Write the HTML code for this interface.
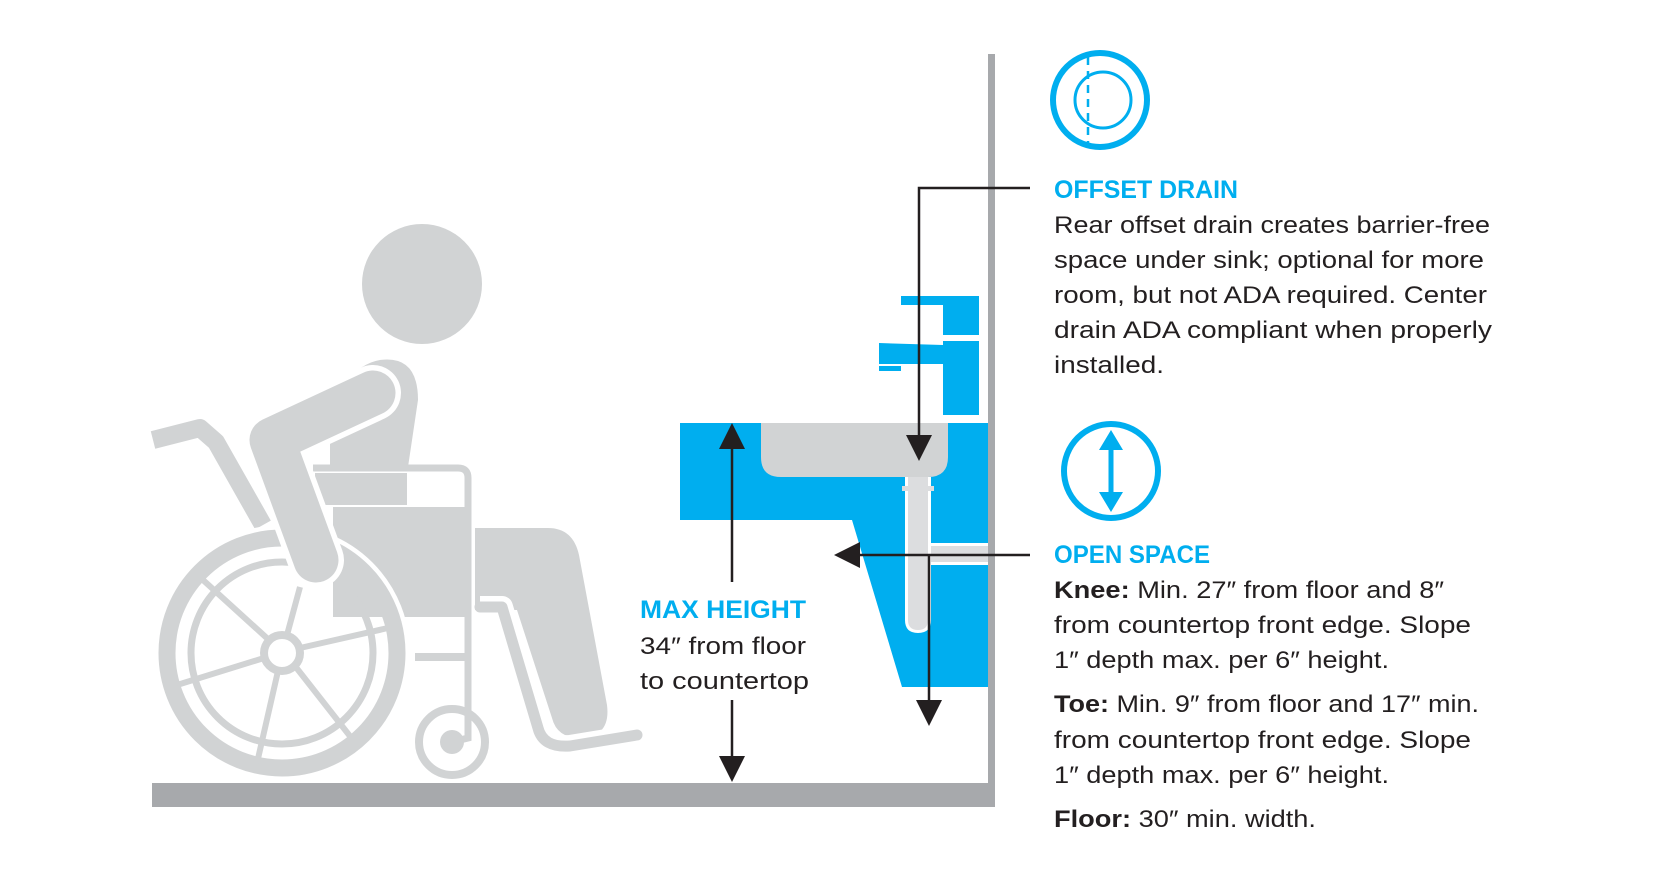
<!DOCTYPE html>
<html><head><meta charset="utf-8"><style>
html,body{margin:0;padding:0;background:#fff;width:1680px;height:877px;overflow:hidden}
svg{display:block}
text{font-family:"Liberation Sans",sans-serif;fill:#231f20}
.b{font-size:24px}
.h{font-size:25px;font-weight:bold;fill:#00aeef}
</style></head><body>
<svg width="1680" height="877" viewBox="0 0 1680 877" xmlns="http://www.w3.org/2000/svg">
<!-- wall & floor -->
<rect x="988" y="54" width="7" height="753" fill="#a7a9ac"/>
<rect x="152" y="783" width="843" height="24" fill="#a7a9ac"/>

<!-- wheelchair figure -->
<g fill="#d1d3d4">
 <circle cx="422" cy="284" r="60"/>
 <!-- torso -->
 <path d="M330,410 Q350,365 380,360 Q418,355 418,400 L408,467 L330,467 Z"/>
 <!-- seat under frame -->
 <rect x="315" y="473" width="92" height="32"/>
 <!-- lap -->
 <rect x="333" y="507" width="132" height="110"/>
 <!-- thigh + shin -->
 <path d="M475,528 H548 Q573,528 579,555 L607,705 Q611,737 580,738 Q557,738 552,718 L517,610 H475 Z"/>
</g>
<!-- chair back handle -->
<polyline points="153,440 200,428 216,442 263,525" fill="none" stroke="#d1d3d4" stroke-width="18" stroke-linejoin="round"/>
<!-- chair frame -->
<path d="M313,468 H458 Q468,468 468,478 V738 L452,742" fill="none" stroke="#d1d3d4" stroke-width="7"/>
<line x1="415" y1="657" x2="468" y2="657" stroke="#d1d3d4" stroke-width="8"/>
<!-- footrest -->
<path d="M480,607 H502 L538,728 Q543,748 570,746 L637,735" fill="none" stroke="#fff" stroke-width="22" stroke-linejoin="round"/>
<path d="M480,607 H502 L538,728 Q543,748 570,746 L637,735" fill="none" stroke="#d1d3d4" stroke-width="11" stroke-linejoin="round" stroke-linecap="round"/>
<!-- big wheel -->
<g fill="none" stroke="#d1d3d4">
 <circle cx="282" cy="653" r="124" stroke-width="8" stroke="#fff"/>
 <circle cx="282" cy="653" r="115" stroke-width="17"/>
 <circle cx="282" cy="653" r="91" stroke-width="7"/>
 <circle cx="282" cy="653" r="18" stroke-width="8"/>
 <g stroke-width="6">
  <line x1="287" y1="635" x2="300" y2="587"/>
  <line x1="269" y1="640" x2="203" y2="580"/>
  <line x1="300" y1="648" x2="388" y2="628"/>
  <line x1="264" y1="658" x2="177" y2="685"/>
  <line x1="278" y1="671" x2="257" y2="763"/>
  <line x1="295" y1="666" x2="353" y2="740"/>
 </g>
</g>
<!-- caster -->
<circle cx="452" cy="742" r="33" fill="none" stroke="#d1d3d4" stroke-width="8"/>
<circle cx="452" cy="742" r="12" fill="#d1d3d4"/>
<!-- arm -->
<g stroke-linecap="round" fill="none" stroke-linejoin="round">
 <polyline points="373,393 272,440 316,560" stroke="#fff" stroke-width="56"/>
 <polyline points="373,393 272,440 316,560" stroke="#d1d3d4" stroke-width="45"/>
</g>

<g transform="translate(-4,-2)">
<!-- sink -->
<rect x="684" y="425" width="308" height="97" fill="#00aeef"/>
<polygon points="856,522 992,522 992,689 906,689" fill="#00aeef"/>
<path d="M765,425 H952 V459 Q952,479 932,479 H785 Q765,479 765,459 Z" fill="#d1d3d4"/>
<rect x="932" y="545" width="60" height="22" fill="#fff"/>
<rect x="934" y="548" width="58" height="16" fill="#dcdddf"/>
<path d="M909,479 H935 V622 Q935,635 922,635 Q909,635 909,622 Z" fill="#fff"/>
<path d="M912,479 H932 V622 Q932,632 922,632 Q912,632 912,622 Z" fill="#dcdddf"/>
<rect x="906" y="488" width="32" height="5" fill="#dcdddf"/>
<!-- faucet -->
<rect x="947" y="298" width="36" height="119" fill="#00aeef"/>
<rect x="905" y="298" width="78" height="9" fill="#00aeef"/>
<rect x="947" y="337" width="36" height="6" fill="#fff"/>
<polygon points="883,345 947,347 947,366 883,366" fill="#00aeef"/>
<rect x="883" y="368" width="22" height="5" fill="#00aeef"/>

<!-- arrows -->
<g stroke="#231f20" stroke-width="2.5" fill="none">
 <polyline points="1034,190 923,190 923,440"/>
 <line x1="1034" y1="557" x2="862" y2="557"/>
 <line x1="933" y1="557" x2="933" y2="705"/>
 <line x1="736" y1="448" x2="736" y2="584"/>
 <line x1="736" y1="702" x2="736" y2="762"/>
</g>
<g fill="#231f20">
 <polygon points="910,437 936,437 923,463"/>
 <polygon points="864,544 864,570 838,557"/>
 <polygon points="920,702 946,702 933,728"/>
 <polygon points="723,451 749,451 736,425"/>
 <polygon points="723,758 749,758 736,784"/>
</g>

<!-- text -->
<text class="h" x="1058" y="200" textLength="184" lengthAdjust="spacingAndGlyphs">OFFSET DRAIN</text>
<text class="b" x="1058" y="235" textLength="436" lengthAdjust="spacingAndGlyphs">Rear offset drain creates barrier-free</text>
<text class="b" x="1058" y="270" textLength="430" lengthAdjust="spacingAndGlyphs">space under sink; optional for more</text>
<text class="b" x="1058" y="305" textLength="433" lengthAdjust="spacingAndGlyphs">room, but not ADA required. Center</text>
<text class="b" x="1058" y="340" textLength="438" lengthAdjust="spacingAndGlyphs">drain ADA compliant when properly</text>
<text class="b" x="1058" y="375" textLength="110" lengthAdjust="spacingAndGlyphs">installed.</text>

<text class="h" x="1058" y="565" textLength="156" lengthAdjust="spacingAndGlyphs">OPEN SPACE</text>
<text class="b" x="1058" y="600" textLength="390" lengthAdjust="spacingAndGlyphs"><tspan font-weight="bold">Knee:</tspan> Min. 27″ from floor and 8″</text>
<text class="b" x="1058" y="635" textLength="417" lengthAdjust="spacingAndGlyphs">from countertop front edge. Slope</text>
<text class="b" x="1058" y="670" textLength="335" lengthAdjust="spacingAndGlyphs">1″ depth max. per 6″ height.</text>
<text class="b" x="1058" y="714" textLength="425" lengthAdjust="spacingAndGlyphs"><tspan font-weight="bold">Toe:</tspan> Min. 9″ from floor and 17″ min.</text>
<text class="b" x="1058" y="750" textLength="417" lengthAdjust="spacingAndGlyphs">from countertop front edge. Slope</text>
<text class="b" x="1058" y="785" textLength="335" lengthAdjust="spacingAndGlyphs">1″ depth max. per 6″ height.</text>
<text class="b" x="1058" y="829" textLength="262" lengthAdjust="spacingAndGlyphs"><tspan font-weight="bold">Floor:</tspan> 30″ min. width.</text>

<text class="h" x="644" y="620" textLength="166" lengthAdjust="spacingAndGlyphs">MAX HEIGHT</text>
<text class="b" x="644" y="656" textLength="166" lengthAdjust="spacingAndGlyphs">34″ from floor</text>
<text class="b" x="644" y="691" textLength="169" lengthAdjust="spacingAndGlyphs">to countertop</text>
</g>

<!-- icons -->
<g fill="none" stroke="#00aeef">
 <circle cx="1100" cy="100" r="47" stroke-width="6"/>
 <circle cx="1103" cy="100" r="28" stroke-width="3"/>
 <line x1="1088" y1="57" x2="1088" y2="143" stroke-width="2.5" stroke-dasharray="8,6"/>
</g>
<g transform="translate(-5,-2)">
 <circle cx="1116" cy="473" r="47" stroke-width="6" fill="none" stroke="#00aeef"/>
 <line x1="1116" y1="445" x2="1116" y2="500" stroke-width="5" stroke="#00aeef"/>
 <polygon points="1104,452 1128,452 1116,432" fill="#00aeef"/>
 <polygon points="1104,494 1128,494 1116,514" fill="#00aeef"/>
</g>
</svg>
</body></html>
